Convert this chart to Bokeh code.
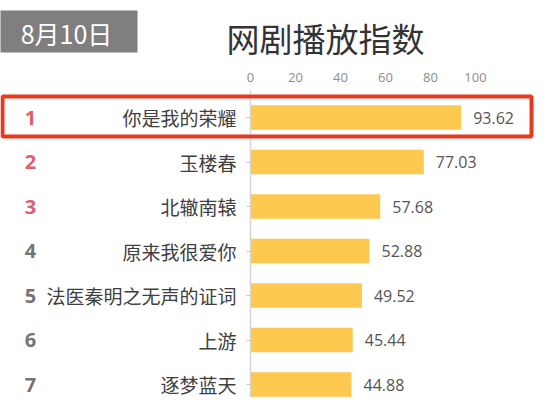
from bokeh.plotting import figure
from bokeh.models import Range1d, FixedTicker, BoxAnnotation, Label, ColumnDataSource
from bokeh.core.properties import value
from bokeh.embed import file_html
from bokeh.resources import INLINE

# ---- data ----
ranks = [1, 2, 3, 4, 5, 6, 7]
names = ["你是我的荣耀", "玉楼春", "北辙南辕", "原来我很爱你", "法医秦明之无声的证词", "上游", "逐梦蓝天"]
values = [93.62, 77.03, 57.68, 52.88, 49.52, 45.44, 44.88]
x_ticks = [0, 20, 40, 60, 80, 100]
date_text = "8月10日"
title_text = "网剧播放指数"

# ---- layout constants (pixels in figure) ----
W, H = 534, 397
AXIS_X = 250          # pixel column of value 0
AXIS_TOP = 90         # pixel row where the value axis begins
PX_PER_UNIT = 2.25
ROW_PX = 44.5
ROW1_Y = 117.0

def fx(px):
    return (px - AXIS_X) / PX_PER_UNIT

def fy(py):
    return 1 + (py - ROW1_Y) / ROW_PX

p = figure(width=W, height=H, output_backend="svg", toolbar_location=None,
           x_range=Range1d(fx(0), fx(W)), y_range=Range1d(fy(H), fy(0)),
           x_axis_location="above", min_border=0, outline_line_color=None,
           background_fill_color="white", border_fill_color="white")
p.grid.visible = False

# x axis on top (labels only)
xa = p.xaxis[0]
xa.fixed_location = fy(AXIS_TOP)
xa.ticker = FixedTicker(ticks=x_ticks)
xa.axis_line_color = None
xa.major_tick_line_color = None
xa.minor_tick_line_color = None
xa.major_label_standoff = 3
xa.major_label_text_font = "Open Sans"
xa.major_label_text_font_size = "13px"
xa.major_label_text_color = "#8c8c8c"

# y axis at value 0 with category names
ya = p.yaxis[0]
ya.fixed_location = 0
ya.bounds = (fy(H + 20), fy(AXIS_TOP))
ya.ticker = FixedTicker(ticks=ranks)
ya.major_label_overrides = {r: n for r, n in zip(ranks, names)}
ya.axis_line_color = "#d4d4d4"
ya.axis_line_width = 1.5
ya.major_tick_line_color = "#c8c8c8"
ya.major_tick_out = 4
ya.major_tick_in = 0
ya.minor_tick_line_color = None
ya.major_label_standoff = 10
ya.major_label_text_font = "Noto Sans CJK SC"
ya.major_label_text_font_size = "19px"
ya.major_label_text_color = "#404040"

src = ColumnDataSource(dict(y=ranks, v=values,
                            lab=[f"{v:.2f}" for v in values],
                            rk=[str(r) for r in ranks],
                            rc=["#e05f6c"] * 3 + ["#757575"] * 4,
                            rx=[fx(30)] * len(ranks)))

p.hbar(y="y", right="v", left=0, height=24.5 / ROW_PX, source=src,
       fill_color="#ffc94f", line_color=None)

p.text(x="v", y="y", text="lab", source=src, x_offset=12,
       text_baseline="middle", text_align="left",
       text_font=value("Open Sans"), text_font_size="16px", text_color="#555555")

# rank numbers
p.text(x="rx", y="y", text="rk", source=src, text_align="center",
       text_baseline="middle", text_font=value("Open Sans"),
       text_font_style="bold", text_font_size="20px", text_color="rc")

# highlight box around first row
p.add_layout(BoxAnnotation(left=fx(2), right=fx(531), top=fy(96), bottom=fy(136),
                           fill_color=None, fill_alpha=0, line_color="#e8391e",
                           line_alpha=1, line_width=4))

# date box
p.add_layout(BoxAnnotation(left=fx(-2), right=fx(137), top=fy(10), bottom=fy(52),
                           fill_color="#7f7f7f", fill_alpha=1, line_color=None,
                           line_alpha=0))
p.add_layout(Label(x=fx(66), y=fy(32), text=date_text, text_align="center",
                   text_baseline="middle", text_font="Noto Sans CJK SC",
                   text_font_size="25px", text_color="white"))

# title
p.add_layout(Label(x=fx(325), y=fy(37), text=title_text, text_align="center",
                   text_baseline="middle", text_font="Noto Sans CJK SC",
                   text_font_size="33px", text_color="#333333"))

open("out.html", "w").write(file_html(p, INLINE))
